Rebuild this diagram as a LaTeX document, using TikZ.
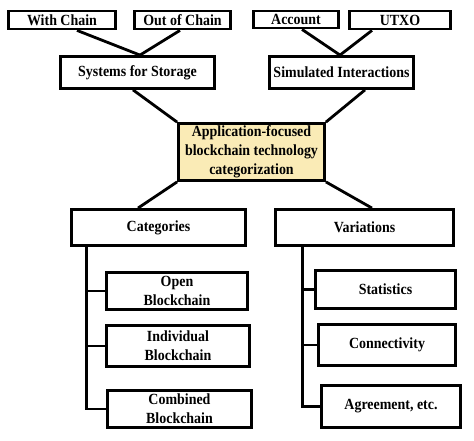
\documentclass[tikz,border=0pt]{standalone}
\usepackage{fontspec}
\setmainfont{Liberation Serif}[FakeStretch=0.9]
\usepackage{tikz}
\usetikzlibrary{positioning}
\definecolor{rootfill}{RGB}{250,235,182}

\begin{document}
\begin{tikzpicture}[x=1pt,y=-1pt,line width=2.8pt,
  box/.style={draw,inner sep=0pt,align=center,
    font=\bfseries\fontsize{15.5}{19}\selectfont}]
\useasboundingbox (0,0) rectangle (474,441);
% top row
\node[box,minimum width=107,minimum height=18] (withc) at (62,20) {With Chain};
\node[box,minimum width=96,minimum height=18] (outc) at (182.5,20) {Out of Chain};
\node[box,minimum width=85,minimum height=17] (acct) at (296,19.5) {Account};
\node[box,minimum width=101,minimum height=18] (utxo) at (400,20) {UTXO};
\node[box,minimum width=154,minimum height=32] (storage) at (137.5,72.5) {Systems for Storage};
\node[box,minimum width=144,minimum height=32] (interact) at (341.5,72.5) {Simulated Interactions};
% middle
\node[box,fill=rootfill,minimum width=146,minimum height=57] (root) at (251.5,152)
  {Application-focused\\blockchain technology\\categorization};
\node[box,minimum width=174,minimum height=36] (cats) at (158.5,227.5) {Categories};
\node[box,minimum width=178,minimum height=36] (vars) at (364.5,227.5) {Variations};
% lists
\node[box,minimum width=141,minimum height=37] (open) at (177,291) {Open\\Blockchain};
\node[box,minimum width=143,minimum height=41] (indiv) at (178,346) {Individual\\Blockchain};
\node[box,minimum width=144,minimum height=37] (comb) at (179.5,409) {Combined\\Blockchain};
\node[box,minimum width=140,minimum height=38] (stats) at (385.5,289.5) {Statistics};
\node[box,minimum width=137,minimum height=41] (conn) at (387,345) {Connectivity};
\node[box,minimum width=139,minimum height=42] (agree) at (391,406.5) {Agreement, etc.};
\coordinate (ctrunk) at ([xshift=16pt]cats.south west);
\coordinate (vtrunk) at ([xshift=28pt]vars.south west);
% links
\draw ([xshift=15pt]withc.south) -- ([xshift=2.5pt]storage.north);
\draw ([xshift=-2.5pt]outc.south) -- ([xshift=2.5pt]storage.north);
\draw ([xshift=6pt]acct.south) -- ([xshift=-1.5pt]interact.north);
\draw ([xshift=-28pt]utxo.south) -- ([xshift=-1.5pt]interact.north);
\draw ([xshift=-4.5pt]storage.south) -- (root.north west);
\draw ([xshift=23.5pt]interact.south) -- (root.north east);
\draw (root.south west) -- ([xshift=-20.5pt]cats.north);
\draw (root.south east) -- ([xshift=7.5pt]vars.north);
\draw (ctrunk) |- (comb.west);
\draw (ctrunk) |- (open.west);
\draw (ctrunk) |- (indiv.west);
\draw (vtrunk) |- (agree.west);
\draw (vtrunk) |- (stats.west);
\draw (vtrunk) |- (conn.west);
\end{tikzpicture}
\end{document}
